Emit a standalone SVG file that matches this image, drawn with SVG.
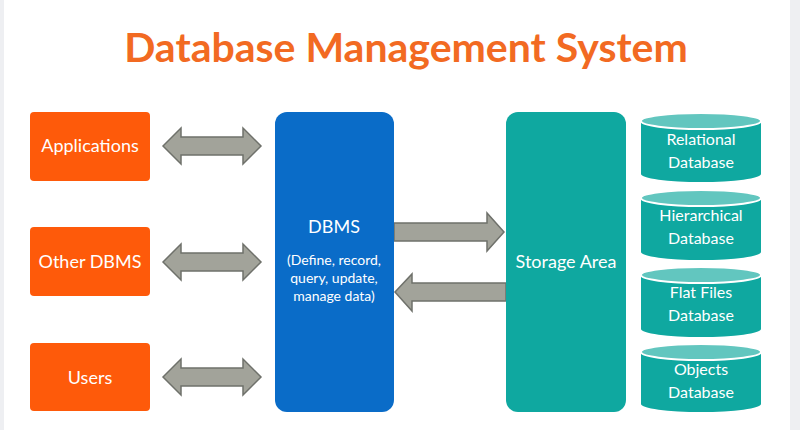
<svg xmlns="http://www.w3.org/2000/svg" width="800" height="430" viewBox="0 0 800 430">
<style>
.t{font-family:Lato,"Open Sans",sans-serif;fill:#fff;text-anchor:middle}
.o{fill:#fe5a0a}
.arr{fill:#a2a39a;stroke:#6f716b;stroke-width:1.5}
.cyl{fill:#0fa8a0}
.top{fill:#62c6bf;stroke:#fff;stroke-width:2}
</style>
<rect width="800" height="430" fill="#fff"/>
<rect x="790" y="0" width="10" height="430" fill="#eeeff2"/>
<rect x="0" y="0" width="4" height="430" fill="#eeeff2"/>
<text x="406" y="62" font-family="Lato,'Open Sans',sans-serif" font-size="41" font-weight="bold" fill="#f26a22" text-anchor="middle">Database Management System</text>
<g id="connectors">
<path class="arr" d="M163,146 L181,128 L181,137 L243,137 L243,128 L261,146 L243,164 L243,155 L181,155 L181,164 Z"/>
<path class="arr" d="M163,262 L181,244 L181,253 L243,253 L243,244 L261,262 L243,280 L243,271 L181,271 L181,280 Z"/>
<path class="arr" d="M163,377 L181,359 L181,368 L243,368 L243,359 L261,377 L243,395 L243,386 L181,386 L181,395 Z"/>
<path class="arr" d="M394,223 L487,223 L487,213 L504,232 L487,251 L487,241 L394,241 Z"/>
<path class="arr" d="M506,283 L412,283 L412,274 L395,292 L412,311 L412,301 L506,301 Z"/>
</g>
<g id="applications"><rect class="o" x="30" y="112" width="120" height="69" rx="4"/><text class="t" x="90" y="152" font-size="18">Applications</text></g>
<g id="otherdbms"><rect class="o" x="30" y="227" width="120" height="69" rx="4"/><text class="t" x="90" y="268" font-size="18">Other DBMS</text></g>
<g id="users"><rect class="o" x="30" y="343" width="120" height="68" rx="4"/><text class="t" x="90" y="384" font-size="18">Users</text></g>
<g id="dbms"><rect x="275" y="112" width="119" height="300" rx="12" fill="#0a6cc8"/>
<text class="t" x="334" y="233" font-size="18">DBMS</text>
<text class="t" x="334" y="265" font-size="14">(Define, record,</text>
<text class="t" x="334" y="283" font-size="14">query, update,</text>
<text class="t" x="334" y="301" font-size="14">manage data)</text></g>
<g id="storage"><rect x="506" y="112" width="120" height="300" rx="12" fill="#0fa8a0"/><text class="t" x="566" y="268" font-size="18">Storage Area</text></g>
<g id="relational"><path class="cyl" d="M641,121 L641,174 A60,8 0 0 0 761,174 L761,121 Z"/><ellipse class="top" cx="701" cy="121" rx="60" ry="8"/><text class="t" x="701" y="145" font-size="16">Relational</text><text class="t" x="701" y="168" font-size="16">Database</text></g>
<g id="hierarchical"><path class="cyl" d="M641,198 L641,252 A60,8 0 0 0 761,252 L761,198 Z"/><ellipse class="top" cx="701" cy="198" rx="60" ry="8"/><text class="t" x="701" y="221" font-size="16">Hierarchical</text><text class="t" x="701" y="244" font-size="16">Database</text></g>
<g id="flatfiles"><path class="cyl" d="M641,275 L641,329 A60,8 0 0 0 761,329 L761,275 Z"/><ellipse class="top" cx="701" cy="275" rx="60" ry="8"/><text class="t" x="701" y="298" font-size="16">Flat Files</text><text class="t" x="701" y="321" font-size="16">Database</text></g>
<g id="objects"><path class="cyl" d="M641,352 L641,404 A60,8 0 0 0 761,404 L761,352 Z"/><ellipse class="top" cx="701" cy="352" rx="60" ry="8"/><text class="t" x="701" y="375" font-size="16">Objects</text><text class="t" x="701" y="398" font-size="16">Database</text></g>
</svg>
